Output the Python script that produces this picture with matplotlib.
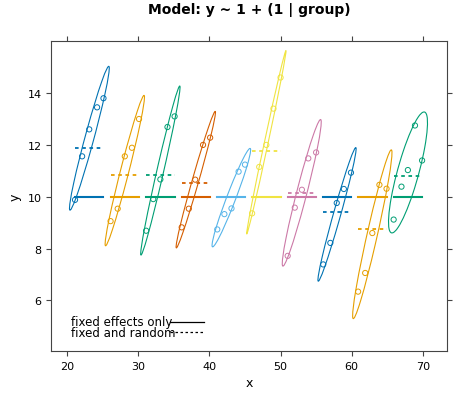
import numpy as np
import matplotlib
matplotlib.use("Agg")
import matplotlib.pyplot as plt
from matplotlib.patches import Ellipse

xs = [
 [21.1,22.1,23.1,24.2,25.1],[26.1,27.1,28.1,29.1,30.1],[31.1,32.1,33.1,34.1,35.1],
 [36.1,37.1,38.0,39.1,40.1],[41.1,42.1,43.1,44.1,45.0],[46.0,47.0,48.0,49.0,50.0],
 [51.0,52.0,53.0,53.9,55.0],[56.0,57.0,57.9,58.9,59.9],[60.9,61.9,62.9,63.9,64.9],
 [65.9,67.0,67.9,68.9,69.9]]
ys = [
 [9.88,11.56,12.6,13.45,13.8],[9.06,9.54,11.56,11.89,13.0],[8.69,9.91,10.67,12.69,13.1],
 [8.82,9.54,10.66,12.0,12.28],[8.74,9.33,9.55,10.97,11.24],[9.36,11.15,12.0,13.4,14.6],
 [7.72,9.58,10.27,11.48,11.71],[7.39,8.22,9.76,10.3,10.93],[6.34,7.06,8.6,10.46,10.31],
 [9.12,10.39,11.03,12.75,11.40]]
fixed = 10.0
random_means = [11.9,10.84,10.85,10.55,9.98,11.76,10.13,9.42,8.77,10.8]
colors = ["#0072B2","#E69F00","#009E73","#D55E00","#56B4E9","#F0E442","#CC79A7",
          "#0072B2","#E69F00","#009E73"]

fig = plt.figure(figsize=(4.74,4.06), dpi=100)
ax = fig.add_axes([0.108, 0.133, 0.835, 0.763])
for i in range(10):
    x = np.array(xs[i]); y = np.array(ys[i]); c = colors[i]
    ax.scatter(x, y, s=14, facecolors='none', edgecolors=c, linewidths=0.7)
    cov = np.cov(x, y)
    vals, vecs = np.linalg.eigh(cov)
    ang = np.degrees(np.arctan2(vecs[1,1], vecs[0,1]))
    r = 1.75
    ax.add_patch(Ellipse((x.mean(), y.mean()), 2*r*np.sqrt(vals[1]), 2*r*np.sqrt(vals[0]),
                         angle=ang, fill=False, color=c, lw=0.8))
    ax.plot([x.min(), x.max()], [fixed, fixed], color=c, lw=1.5)
    ax.plot([x.min(), x.max()], [random_means[i]]*2, color=c, lw=1.3, ls=(0,(2,2)))
ax.set_xlim(17.75, 73.4)
ax.set_ylim(4.05, 16.0)
ax.set_xticks([20,30,40,50,60,70])
ax.set_yticks([6,8,10,12,14])
ax.tick_params(direction='out', top=True, right=True, labelsize=8, color='#444444')
for s in ax.spines.values():
    s.set_color('#444444')
ax.set_xlabel('x', fontsize=9)
ax.set_ylabel('y', fontsize=9)
ax.set_title('Model: y ~ 1 + (1 | group)', fontsize=10, fontweight='bold', pad=20)
# legend
ax.text(0.05, 0.095, 'fixed effects only', transform=ax.transAxes, fontsize=8.5, va='center')
ax.text(0.05, 0.06, 'fixed and random', transform=ax.transAxes, fontsize=8.5, va='center')
ax.plot([0.30, 0.385], [0.095, 0.095], transform=ax.transAxes, color='black', lw=0.9)
ax.plot([0.30, 0.385], [0.06, 0.06], transform=ax.transAxes, color='black', lw=0.9, ls=(0,(2,2)))
fig.savefig('out.png', dpi=100)
